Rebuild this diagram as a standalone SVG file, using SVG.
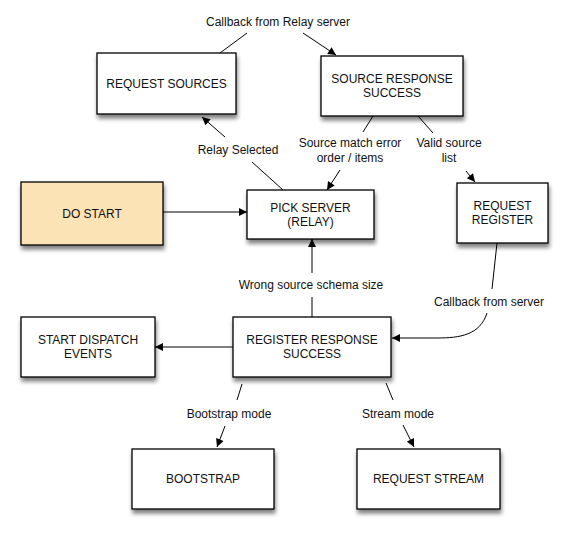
<svg xmlns="http://www.w3.org/2000/svg" width="568" height="533" viewBox="0 0 568 533">
<defs>
<filter id="sh" x="-10%" y="-10%" width="130%" height="140%">
<feGaussianBlur in="SourceAlpha" stdDeviation="2.2"/>
<feOffset dx="1" dy="4" result="b"/>
<feComponentTransfer><feFuncA type="linear" slope="0.5"/></feComponentTransfer>
<feMerge><feMergeNode/><feMergeNode in="SourceGraphic"/></feMerge>
</filter>
<marker id="ah" viewBox="0 0 10 10" refX="10" refY="5" markerWidth="10" markerHeight="8" markerUnits="userSpaceOnUse" orient="auto">
<path d="M0,0 L10,5 L0,10 z" fill="#000"/>
</marker>
</defs>
<style>
.box{fill:#fff;stroke:#000;stroke-width:1.3}
.start{fill:#fce3b6;stroke:#000;stroke-width:1.3}
.t{font-family:"Liberation Sans",Arial,sans-serif;font-size:12px;fill:#111;text-anchor:middle}
.c{fill:none;stroke:#000;stroke-width:1}
.a{marker-end:url(#ah)}
</style>
<rect width="568" height="533" fill="#fff"/>
<g id="connectors">
<line class="c" x1="220" y1="53" x2="247" y2="33"/>
<line class="c a" x1="303" y1="33" x2="336" y2="55"/>
<text class="t" x="278" y="26">Callback from Relay server</text>
<line class="c a" x1="225" y1="137" x2="202" y2="117"/>
<line class="c" x1="252" y1="162" x2="283" y2="190"/>
<text class="t" x="238" y="154">Relay Selected</text>
<line class="c" x1="373" y1="116" x2="363" y2="132"/>
<line class="c a" x1="340" y1="170" x2="327" y2="190"/>
<text class="t" x="350" y="147">Source match error</text>
<text class="t" x="350" y="162">order / items</text>
<line class="c" x1="418" y1="116" x2="433" y2="133"/>
<line class="c a" x1="466" y1="171" x2="475" y2="182"/>
<text class="t" x="449" y="147">Valid source</text>
<text class="t" x="449" y="162">list</text>
<line class="c a" x1="163" y1="212" x2="247" y2="212"/>
<line class="c" x1="312" y1="317" x2="312" y2="297"/>
<line class="c a" x1="312" y1="273" x2="312" y2="239"/>
<text class="t" x="311" y="289">Wrong source schema size</text>
<line class="c" x1="497" y1="243" x2="492" y2="289"/>
<path class="c a" d="M487,313 C480,335 460,338 437,338 L392,338"/>
<text class="t" x="489" y="306">Callback from server</text>
<line class="c a" x1="233" y1="347" x2="155" y2="347"/>
<line class="c" x1="242" y1="384" x2="237" y2="400"/>
<line class="c a" x1="225" y1="426" x2="217" y2="447"/>
<text class="t" x="229" y="418">Bootstrap mode</text>
<line class="c" x1="386" y1="383" x2="393" y2="400"/>
<line class="c a" x1="403" y1="425" x2="414" y2="447"/>
<text class="t" x="398" y="418">Stream mode</text>
</g>
<g id="request-sources"><rect class="box" filter="url(#sh)" x="97" y="53" width="139" height="61"/><text class="t" x="166.5" y="88">REQUEST SOURCES</text></g>
<g id="source-response-success"><rect class="box" filter="url(#sh)" x="321" y="56" width="142" height="60"/><text class="t" x="392" y="83">SOURCE RESPONSE</text><text class="t" x="392" y="97">SUCCESS</text></g>
<g id="do-start"><rect class="start" filter="url(#sh)" x="21" y="182" width="142" height="63"/><text class="t" x="92" y="218">DO START</text></g>
<g id="pick-server"><rect class="box" filter="url(#sh)" x="247" y="190" width="127" height="49"/><text class="t" x="310.5" y="212">PICK SERVER</text><text class="t" x="310.5" y="226">(RELAY)</text></g>
<g id="request-register"><rect class="box" filter="url(#sh)" x="457" y="183" width="91" height="60"/><text class="t" x="502.5" y="210">REQUEST</text><text class="t" x="502.5" y="224">REGISTER</text></g>
<g id="start-dispatch-events"><rect class="box" filter="url(#sh)" x="21" y="317" width="134" height="60"/><text class="t" x="88" y="344">START DISPATCH</text><text class="t" x="88" y="358">EVENTS</text></g>
<g id="register-response-success"><rect class="box" filter="url(#sh)" x="233" y="317" width="158" height="60"/><text class="t" x="312" y="344">REGISTER RESPONSE</text><text class="t" x="312" y="358">SUCCESS</text></g>
<g id="bootstrap"><rect class="box" filter="url(#sh)" x="132" y="449" width="142" height="60"/><text class="t" x="203" y="483">BOOTSTRAP</text></g>
<g id="request-stream"><rect class="box" filter="url(#sh)" x="357" y="449" width="143" height="60"/><text class="t" x="428.5" y="483">REQUEST STREAM</text></g>
</svg>
